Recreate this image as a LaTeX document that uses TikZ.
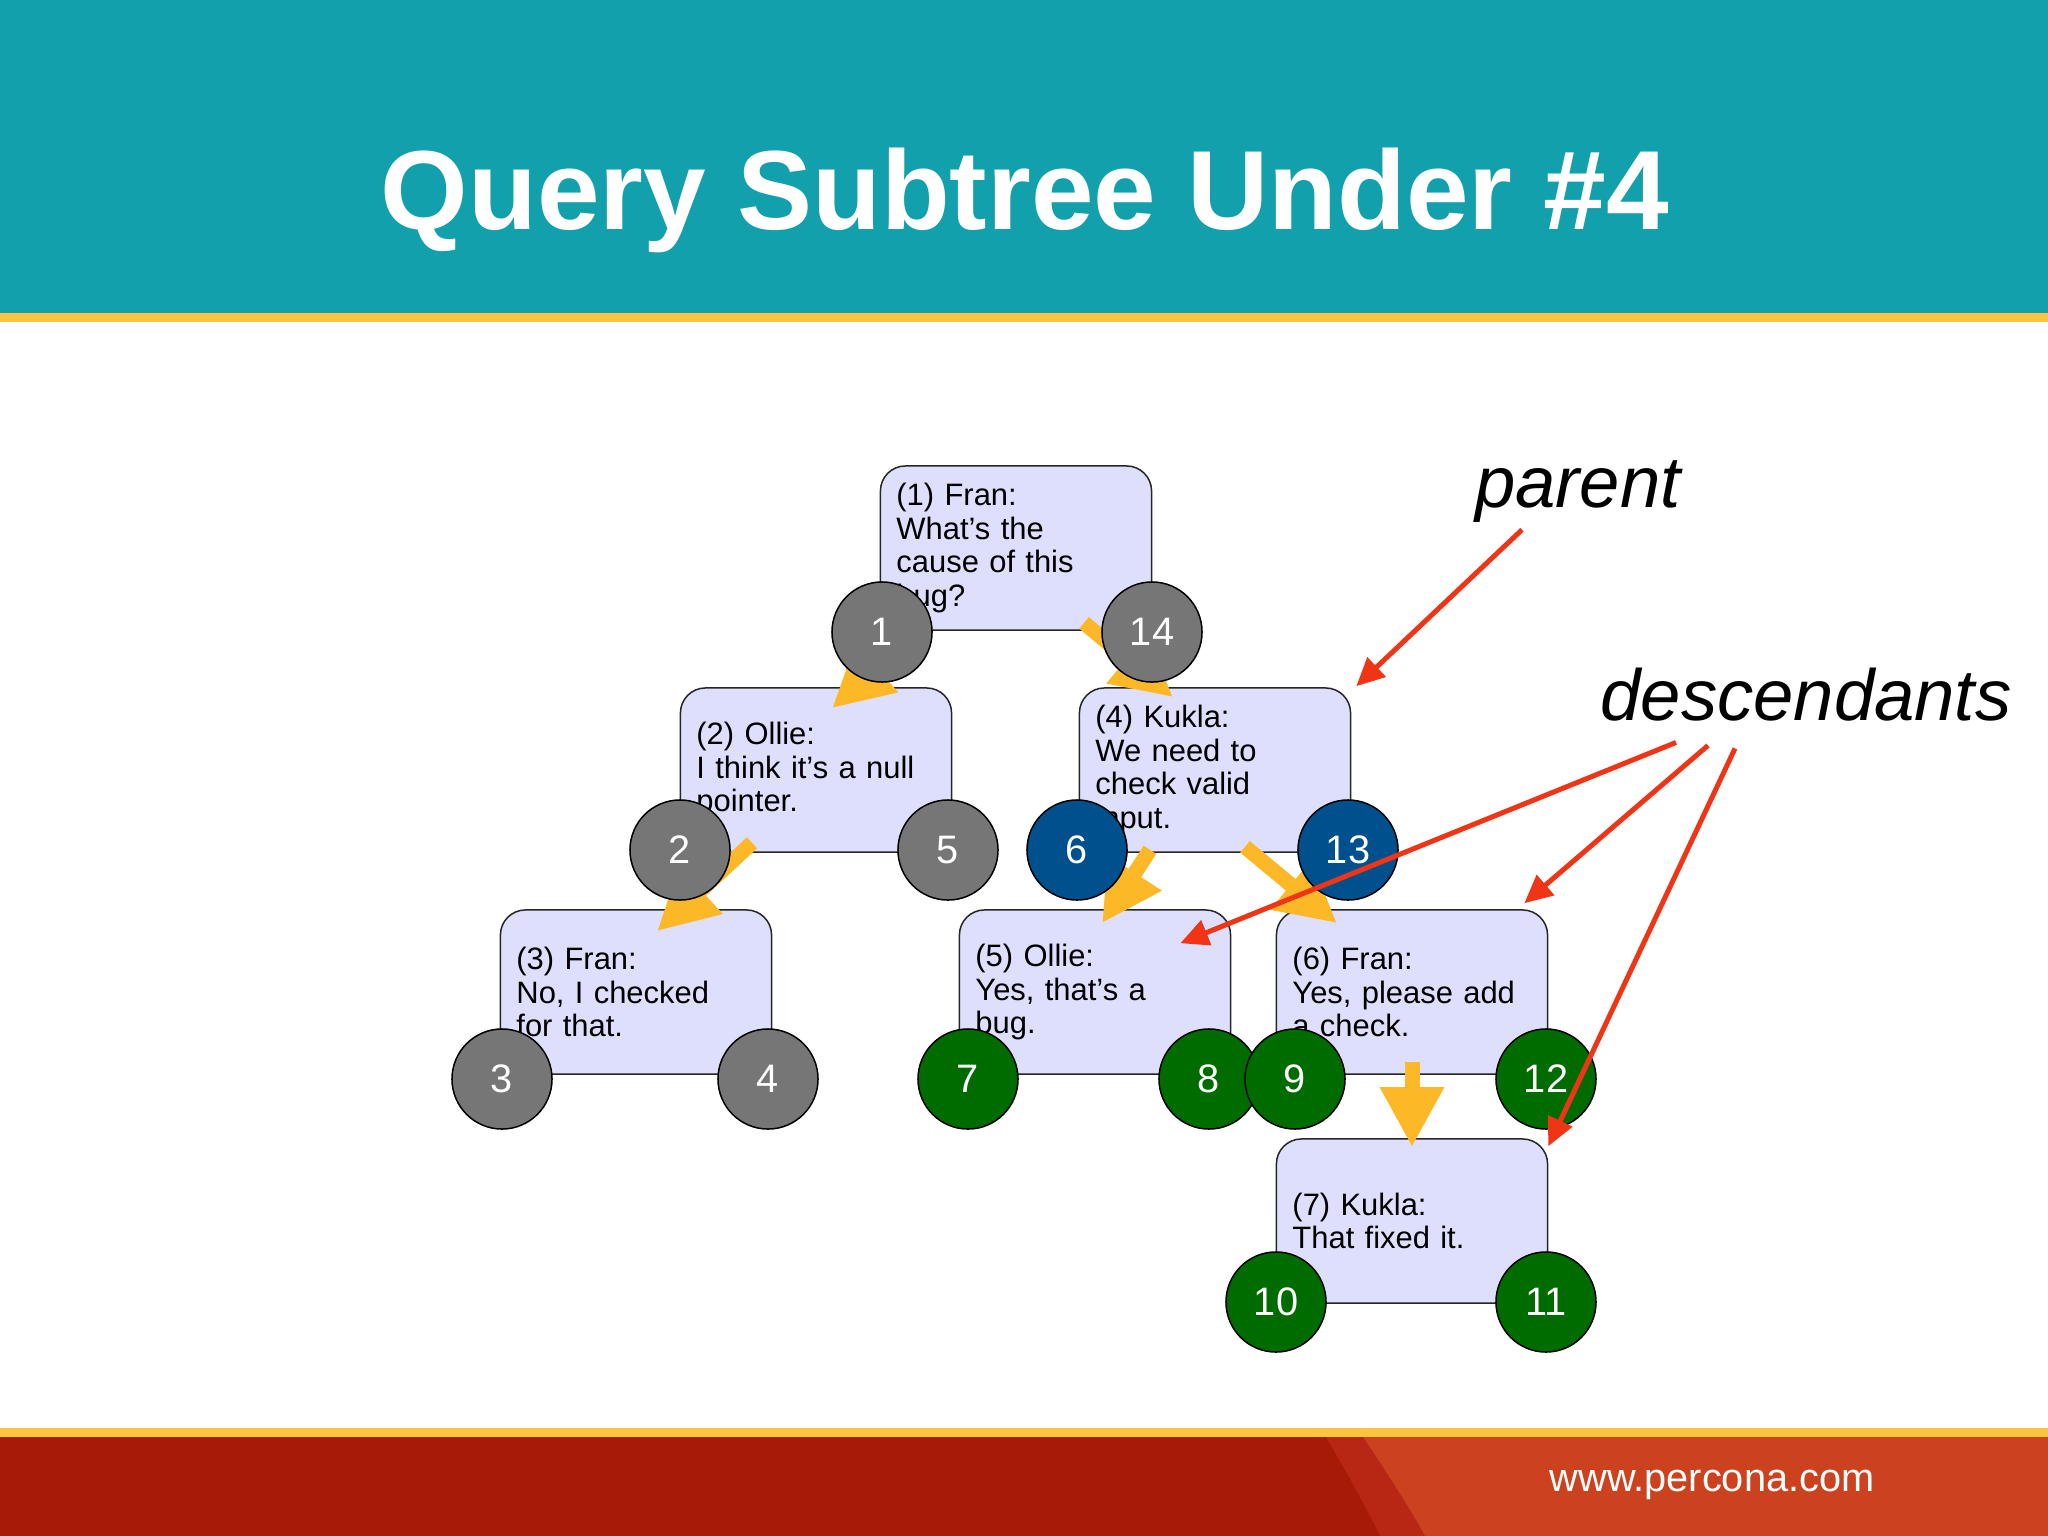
\documentclass[tikz,border=0pt]{standalone}
\usepackage{fontspec}
\setmainfont{Liberation Sans}
\usetikzlibrary{arrows.meta,calc}

\definecolor{headteal}{RGB}{17,160,172}
\definecolor{stripe}{RGB}{254,196,64}
\definecolor{footdark}{RGB}{168,26,8}
\definecolor{footmid}{RGB}{184,38,20}
\definecolor{footlight}{RGB}{204,66,30}
\definecolor{boxfill}{RGB}{221,223,252}
\definecolor{oldgray}{RGB}{118,118,118}
\definecolor{subblue}{RGB}{0,80,142}
\definecolor{descgreen}{RGB}{0,108,0}
\definecolor{threadyellow}{RGB}{253,184,39}
\definecolor{pointred}{RGB}{240,52,22}

\begin{document}
\begin{tikzpicture}[x=0.01cm, y=-0.01cm,
    msgbox/.style={rectangle, rounded corners=0.25cm, draw=black!85,
        line width=0.015cm, fill=boxfill, minimum width=2.71cm,
        minimum height=1.64cm, text width=2.39cm, inner xsep=0.16cm,
        inner ysep=0pt, align=left, font=\fontsize{8.8}{9.55}\selectfont},
    vertex/.style={circle, draw=black, line width=0.015cm,
        minimum size=1cm, inner sep=0pt, text=white,
        font=\fontsize{11.3}{13}\selectfont},
    thread/.style={draw=threadyellow, line width=0.15cm,
        -{Triangle[width=0.6cm,length=0.6cm]}},
    pointer/.style={draw=pointred, line width=0.05cm,
        -{Triangle[width=0.26cm,length=0.28cm]}},
    callout/.style={inner sep=0pt, font=\fontsize{20.6}{24}\selectfont\itshape}
]
    % slide background
    \useasboundingbox (0,0) rectangle (2048,1536);
    \fill[white] (0,0) rectangle (2048,1536);
    \fill[headteal] (0,0) rectangle (2048,313);
    \fill[stripe] (0,313) rectangle (2048,322);
    \fill[stripe] (0,1428) rectangle (2048,1437);
    \fill[footlight] (0,1437) rectangle (2048,1536);
    \fill[footmid] (0,1437) -- (1363,1437) .. controls (1385,1470) and (1408,1505) .. (1425,1536) -- (0,1536) -- cycle;
    \fill[footdark] (0,1437) -- (1326,1437) .. controls (1345,1470) and (1365,1505) .. (1380,1536) -- (0,1536) -- cycle;
    \node[text=white, anchor=base, font=\fontsize{32}{38}\selectfont\bfseries] (title) at (1025,229) {Query Subtree Under \#4};
    \node[text=white, anchor=base, font=\fontsize{11.3}{13}\selectfont] (url) at (1712,1491) {www.percona.com};

    % messages
    \node[msgbox] (b1) at (1016,548) {(1) Fran:\\What’s the\\cause of this\\bug?};
    \node[msgbox] (b2) at (816,770) {(2) Ollie:\\I think it’s a null\\pointer.};
    \node[msgbox] (b3) at (636,992) {(3) Fran:\\No, I checked\\for that.};
    \node[msgbox] (b4) at (1215,770) {(4) Kukla:\\We need to\\check valid\\input.};
    \node[msgbox] (b5) at (1095,992) {(5) Ollie:\\Yes, that’s a\\bug.};
    \node[msgbox] (b6) at (1412,992) {(6) Fran:\\Yes, please add\\a check.};
    \node[msgbox] (b7) at (1412,1221) {(7) Kukla:\\That fixed it.};

    % replies
    \draw[thread] ($(b1.south)+(-103,5)$) -- ($(b2.north)+(16,21)$);
    \draw[thread] ($(b2.south)+(-64,-10)$) -- ($(b3.north)+(21,22)$);
    \draw[thread] ($(b1.south)+(68,-8)$) -- ($(b4.north)+(-42,10)$);
    \draw[thread] ($(b4.south)+(-65,-3)$) -- ($(b5.north)+(7,14)$);
    \draw[thread] ($(b4.south)+(30,-6)$) -- ($(b6.north)+(-75,14)$);
    \draw[thread] ($(b6.south)+(0,-13)$) -- ($(b7.north)+(0,9)$);

    % left and right numbers
    \node[vertex, fill=oldgray] (n1) at (882,632) {1};
    \node[vertex, fill=oldgray] (n14) at (1152,632) {14};
    \node[vertex, fill=oldgray] (n2) at (680,850) {2};
    \node[vertex, fill=oldgray] (n5) at (948,850) {5};
    \node[vertex, fill=subblue] (n6) at (1077,850) {6};
    \node[vertex, fill=subblue] (n13) at (1348,850) {13};
    \node[vertex, fill=oldgray] (n3) at (502,1079) {3};
    \node[vertex, fill=oldgray] (n4) at (768,1079) {4};
    \node[vertex, fill=descgreen] (n7) at (968,1079) {7};
    \node[vertex, fill=descgreen] (n8) at (1209,1079) {8};
    \node[vertex, fill=descgreen] (n9) at (1295,1079) {9};
    \node[vertex, fill=descgreen] (n12) at (1546,1079) {12};
    \node[vertex, fill=descgreen] (n10) at (1276,1302) {10};
    \node[vertex, fill=descgreen] (n11) at (1546,1302) {11};

    % callouts
    \node[callout, anchor=base] (parent) at (1578,507) {parent};
    \node[callout, anchor=base] (desc) at (1806,720) {descendants};
    \draw[pointer] ($(parent.south)+(-56,7)$) -- ($(b4.north east)+(5,-1)$);
    \draw[pointer] ($(desc.south)+(-130,21)$) -- ($(b5.north east)+(-51,34)$);
    \draw[pointer] ($(desc.south)+(-98,24)$) -- ($(b6.north east)+(-24,-6)$);
    \draw[pointer] ($(desc.south)+(-71,27)$) -- ($(b7.north east)+(0,8)$);
\end{tikzpicture}
\end{document}
